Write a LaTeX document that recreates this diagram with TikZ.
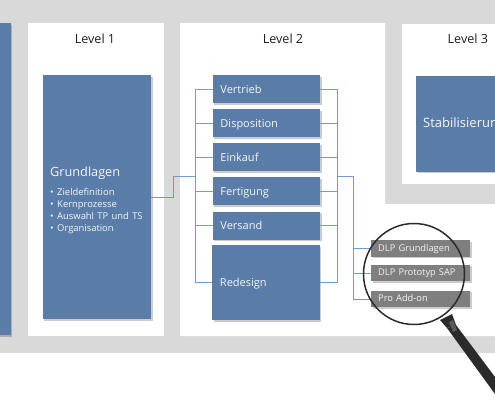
\documentclass[tikz,border=0pt]{standalone}
\usepackage{fontspec}
\setmainfont{Open Sans}
\usetikzlibrary{shadows}
\definecolor{bandgray}{HTML}{D9D9D9}
\definecolor{boxblue}{HTML}{5A7CA8}
\definecolor{linkblue}{HTML}{7499CC}
\definecolor{tagray}{HTML}{7F7F7F}
\definecolor{lensdark}{HTML}{2B2B2B}
\tikzset{
  x=1pt,y=-1pt,
  panel/.style={fill=white,draw=none,inner sep=0pt,anchor=north west},
  bluebox/.style={fill=boxblue,draw=none,anchor=north west,inner sep=0pt,
    text=white!94!boxblue,drop shadow={shadow xshift=1.5pt,shadow yshift=-1.5pt,fill=black,opacity=.2}},
  smallbox/.style={bluebox,minimum width=107.5pt,text width=92pt,align=left,font=\fontsize{11}{13}\selectfont,text height=9pt,text depth=1pt},
  graytag/.style={fill=tagray,draw=none,anchor=north west,inner sep=0pt,minimum width=99pt,text width=85pt,align=left,
    text=white!92!tagray,font=\fontsize{9.3}{11}\selectfont,text height=8pt,text depth=2pt,
    drop shadow={shadow xshift=1.5pt,shadow yshift=-1.5pt,fill=black,opacity=.2}},
  heading/.style={font=\fontsize{12.6}{15}\selectfont,text=black!88,inner sep=0pt},
  link/.style={draw=linkblue,line width=.75pt},
}
\begin{document}
\begin{tikzpicture}
\useasboundingbox (0,0) rectangle (495,400);
\clip (0,0) rectangle (495,400);
% backdrop
\fill[bandgray] (0,0) rectangle (495,353);
\fill[white] (180,23) -- (385,23) -- (385,204) -- (495,204) -- (495,336) -- (180,336) -- cycle;
\node[panel,minimum width=136.5pt,minimum height=313pt] (p1) at (27.5,23) {};
\node[panel,minimum width=93pt,minimum height=160pt] (p3) at (402,24) {};
% headings
\node[heading] (h1) at (95,39) {Level 1};
\node[heading] (h2) at (283,39) {Level 2};
\node[heading,anchor=west] (h3) at (447.5,39) {Level 3};
% left edge box
\node[bluebox,minimum width=20.5pt,minimum height=312pt] (p0) at (-10,23) {};
% level 1
\node[bluebox,minimum width=108.5pt,minimum height=244pt,text width=93.5pt,align=left] (grund) at (42.5,75)
 {\rule{0pt}{8pt}\\[-4pt]{\fontsize{12.7}{15}\selectfont Grundlagen}\\[7pt]
  {\fontsize{9.4}{12}\selectfont
  \textbullet\hspace{3.5pt}Zieldefinition\\
  \textbullet\hspace{3.5pt}Kernprozesse\\
  \textbullet\hspace{3.5pt}Auswahl TP und TS\\
  \textbullet\hspace{3.5pt}Organisation}};
% level 2
\node[smallbox,minimum height=28pt] (vert) at (212.5,75) {Vertrieb};
\node[smallbox,minimum height=28pt] (disp) at (212.5,109) {Disposition};
\node[smallbox,minimum height=28pt] (eink) at (212.5,143) {Einkauf};
\node[smallbox,minimum height=28pt] (fert) at (212.5,177) {Fertigung};
\node[smallbox,minimum height=28pt] (vers) at (212.5,211.5) {Versand};
\node[smallbox,minimum height=75pt] (rede) at (212,245) {Redesign};
% level 3
\node[bluebox,minimum width=100pt,minimum height=95.5pt,text width=86pt,align=left,font=\fontsize{13}{15}\selectfont,text height=9pt,text depth=1pt] (stab) at (416,76) {Stabilisierung};
% tags
\node[graytag,minimum height=16.5pt] (t1) at (371,240) {DLP Grundlagen};
\node[graytag,minimum height=16.5pt] (t2) at (371,264.5) {DLP Prototyp SAP};
\node[graytag,minimum height=16.5pt] (t3) at (371,290.5) {Pro Add-on};
% bus coordinates
\coordinate (busL) at (195.5,176);
\coordinate (busR) at (337,176);
\coordinate (busT) at (353.5,176);
\coordinate (jog) at (173,197);
% connectors
\draw[link] (grund.east |- jog) -- (jog) -- (jog |- busL) -- (busL);
\draw[link] (vert.west) -- (vert.west -| busL) -- (rede.west -| busL) -- (rede.west);
\foreach \n in {disp,eink,fert,vers} \draw[link] (\n.west) -- (\n.west -| busL);
\draw[link] (vert.east) -- (vert.east -| busR) -- (rede.east -| busR) -- (rede.east);
\foreach \n in {disp,eink,fert,vers} \draw[link] (\n.east) -- (\n.east -| busR);
\draw[link] (busR) -- (busT) -- (t3.west -| busT) -- (t3.west);
\foreach \n in {t1,t2} \draw[link] (\n.west) -- (\n.west -| busT);
% magnifier
\coordinate (lens) at (414,274);
\fill[lensdark] (447,328) -- (456,325) -- (495,377) -- (495,394) -- cycle;
\fill[lensdark] (440,320) -- (452,314) -- (456,325) -- (447,328) -- cycle;
\fill[gray!70!black] (449,322) -- (453,320) -- (457,330) -- (453,332) -- cycle;
\draw[lensdark,line width=1.5pt] (lens) circle[radius=50.5];
\end{tikzpicture}
\end{document}
